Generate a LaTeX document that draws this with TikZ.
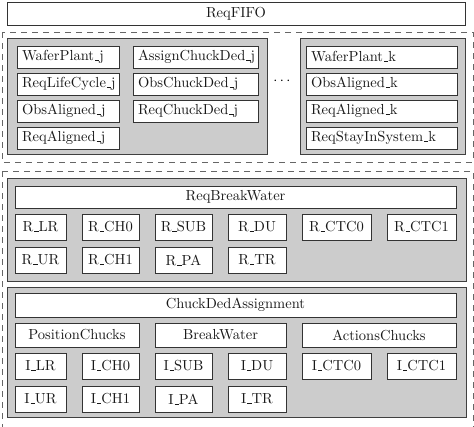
\documentclass[tikz,border=0pt]{standalone}
\usepackage{tikz}
\usetikzlibrary{chains,positioning}

\newcommand\usc{\leavevmode\kern.06em\vbox{\hrule width.3em}}

\begin{document}
\begin{tikzpicture}[
		x=0.75pt, y=-0.75pt,
		node distance=12pt,
		font=\fontsize{10.9pt}{13pt}\selectfont,
		cell/.style={draw=black!80, fill=white, line width=0.6pt, inner sep=0pt,
			minimum height=#1*0.75pt, outer sep=0pt, text=black!90},
		cell/.default=22,
		wd/.style={minimum width=#1*0.75pt},
		lt/.style={wd=#1, text width=(#1-10)*0.75pt, align=left},
		group/.style={draw=black!75, fill=gray!40, line width=0.7pt},
		zone/.style={draw=black!60, dash pattern=on 4.5pt off 3.75pt, line width=0.6pt},
		]
		\useasboundingbox (0,0) rectangle (474,426);
		\clip (0,0) rectangle (474,426);
		
		% requirements FIFO
		\node [cell=23, wd=458, anchor=north west] (fifo) at (7,2) {ReqFIFO};
		\draw [zone] (2,32) rectangle (473,162);
		\draw [group] (7,38) rectangle (267,154);
		\draw [group] (300,38) rectangle (465,154);
		
		\begin{scope}[start chain=jleft going below, node distance=3.75pt, nodes={lt=102}]
			\node [cell, on chain, anchor=north west] (wpj) at (17,46) {WaferPlant\usc j};
			\node [cell, on chain] (rlcj) {ReqLifeCycle\usc j};
			\node [cell, on chain] (oaj) {ObsAligned\usc j};
			\node [cell, on chain] (raj) {ReqAligned\usc j};
		\end{scope}
		\begin{scope}[start chain=jright going below, node distance=3.75pt, nodes={lt=125}]
			\node [cell, on chain, anchor=north west] (acdj) at (133,46) {AssignChuckDed\usc j};
			\node [cell, on chain] (ocdj) {ObsChuckDed\usc j};
			\node [cell, on chain] (rcdj) {ReqChuckDed\usc j};
		\end{scope}
		
		\node (dots) at (282,81) {$\cdots$};
		
		\begin{scope}[start chain=kcol going below, node distance=3.75pt, nodes={lt=151}]
			\node [cell, on chain, anchor=north west] (wpk) at (306,46) {WaferPlant\usc k};
			\node [cell, on chain] (oak) {ObsAligned\usc k};
			\node [cell, on chain] (rak) {ReqAligned\usc k};
			\node [cell, on chain] (rsk) {ReqStayInSystem\usc k};
		\end{scope}
		
		% breakwater and chuck assignment
		\draw [zone] (2,171) rectangle (473,440);
		\draw [group] (7,178) rectangle (466,281);
		\node [cell, wd=441, anchor=north west] (rbw) at (15,186) {ReqBreakWater};
		
		\begin{scope}[start chain=rone going right]
			\node [cell=26, wd=51, on chain, anchor=north west] (rLR) at (15,214) {R\usc LR};
			\node [cell=26, wd=57, on chain] (rCH0) {R\usc CH0};
			\node [cell=26, wd=57, on chain] (rSUB) {R\usc SUB};
			\node [cell=26, wd=58, on chain] (rDU) {R\usc DU};
			\node [cell=26, wd=69, on chain] (rCTC0) {R\usc CTC0};
			\node [cell=26, wd=69, on chain] (rCTC1) {R\usc CTC1};
		\end{scope}
		\begin{scope}[start chain=rtwo going right]
			\node [cell=26, wd=51, on chain, anchor=north west] (rUR) at (15,247) {R\usc UR};
			\node [cell=26, wd=57, on chain] (rCH1) {R\usc CH1};
			\node [cell=26, wd=57, on chain] (rPA) {R\usc PA};
			\node [cell=26, wd=58, on chain] (rTR) {R\usc TR};
		\end{scope}
		
		\draw [group] (7,287) rectangle (466,417);
		\node [cell=24, wd=441, anchor=north west] (cda) at (15,293) {ChuckDedAssignment};
		
		\begin{scope}[start chain=heads going right]
			\node [cell=24, wd=124, on chain, anchor=north west] (pc) at (15,323) {PositionChucks};
			\node [cell=24, wd=131, on chain] (bw) {BreakWater};
			\node [cell=24, wd=154, on chain] (ac) {ActionsChucks};
		\end{scope}
		\begin{scope}[start chain=ione going right]
			\node [cell=26, wd=51, on chain, anchor=north west] (iLR) at (15,353) {I\usc LR};
			\node [cell=26, wd=57, on chain] (iCH0) {I\usc CH0};
			\node [cell=26, wd=57, on chain] (iSUB) {I\usc SUB};
			\node [cell=26, wd=58, on chain] (iDU) {I\usc DU};
			\node [cell=26, wd=69, on chain] (iCTC0) {I\usc CTC0};
			\node [cell=26, wd=69, on chain] (iCTC1) {I\usc CTC1};
		\end{scope}
		\begin{scope}[start chain=itwo going right]
			\node [cell=26, wd=51, on chain, anchor=north west] (iUR) at (15,386) {I\usc UR};
			\node [cell=26, wd=57, on chain] (iCH1) {I\usc CH1};
			\node [cell=26, wd=57, on chain] (iPA) {I\usc PA};
			\node [cell=26, wd=58, on chain] (iTR) {I\usc TR};
		\end{scope}
\end{tikzpicture}
\end{document}
